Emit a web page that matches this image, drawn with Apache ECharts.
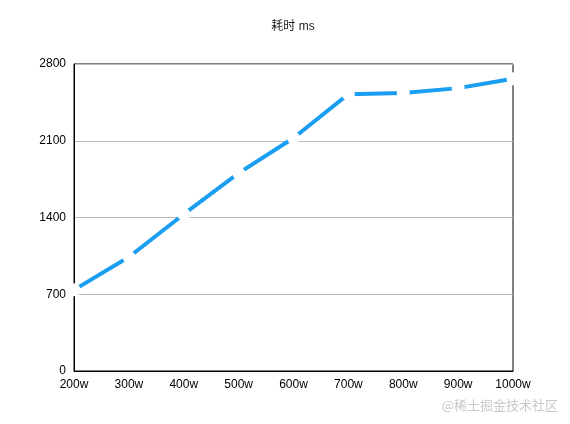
<!DOCTYPE html>
<html>
<head>
<meta charset="utf-8">
<script src="https://cdn.jsdelivr.net/npm/echarts@6/dist/echarts.min.js"></script>
<style>html,body{margin:0;padding:0;background:#fff}#echarts{width:570px;height:424px}</style>
</head>
<body>
<div id="echarts"></div>
<script>
var categories = ['200w', '300w', '400w', '500w', '600w', '700w', '800w', '900w', '1000w'];
var costMs = [740, 1040, 1430, 1805, 2125, 2525, 2535, 2580, 2665];
var yTicks = { min: 0, max: 2800, interval: 700 };

var myChart = echarts.init(document.getElementById('echarts')),
    option = {
        animation: false,
        textStyle: { fontFamily: 'Liberation Sans, Noto Sans CJK SC, sans-serif' },
        legend: {
            top: 16,
            data: [{ name: '耗时 ms', icon: 'emptyCircle', itemStyle: { borderWidth: 2.5 } }],
            itemWidth: 10, itemHeight: 10,
            textStyle: { color: '#222', fontSize: 12 }
        },
        grid: { left: 74, right: 57, top: 64, bottom: 53, show: true, borderColor: '#000', borderWidth: 1 },
        xAxis: {
            type: 'category',
            boundaryGap: false,
            data: categories,
            axisLine: { lineStyle: { color: '#000' } },
            axisTick: { show: false },
            axisLabel: { color: '#000', fontSize: 12, margin: 8 }
        },
        yAxis: {
            type: 'value',
            min: yTicks.min, max: yTicks.max, interval: yTicks.interval,
            axisLine: { show: true, lineStyle: { color: '#000' } },
            axisTick: { show: false },
            axisLabel: { color: '#000', fontSize: 12, formatter: function (v) { return String(v); } },
            splitLine: { lineStyle: { color: '#bbb' } }
        },
        series: [{
            name: '耗时 ms',
            type: 'line',
            data: costMs,
            color: '#1a9ef2',
            symbol: 'emptyCircle',
            symbolSize: 11,
            lineStyle: { width: 4, color: '#1a9ef2' },
            itemStyle: { borderWidth: 4, borderColor: '#1a9ef2', color: '#fff' }
        }],
        graphic: [{
            type: 'text', right: 12, bottom: 12,
            style: { text: '@稀土掘金技术社区', fill: '#c8c8c8', fontSize: 13, fontFamily: 'Noto Sans CJK SC' }
        }]
    };
myChart.setOption(option);
</script>
</body>
</html>
